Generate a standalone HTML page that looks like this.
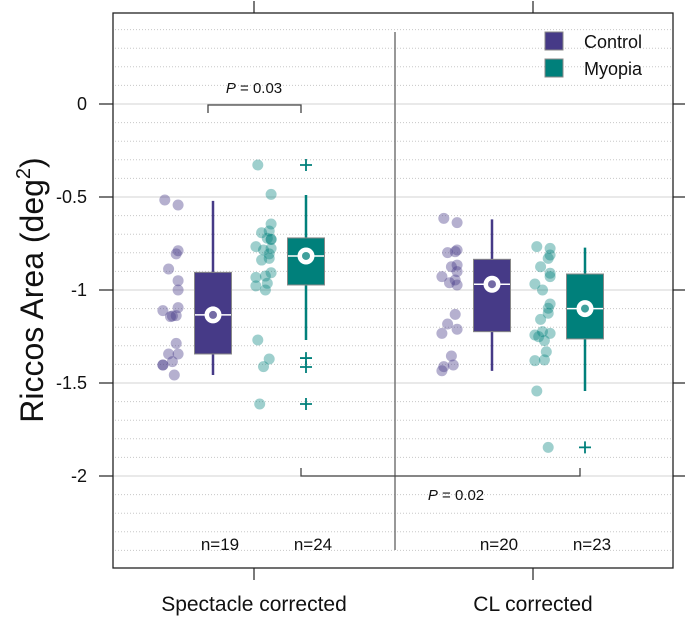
<!DOCTYPE html>
<html><head><meta charset="utf-8"><style>
html,body{margin:0;padding:0;background:#fff;}
svg{display:block;font-family:"Liberation Sans",Arial,sans-serif;}
</style></head><body>
<svg id="chart" width="685" height="618" viewBox="0 0 685 618"></svg>
<script>
const categories = ["Spectacle corrected", "CL corrected"];
const groups = ["Control", "Myopia"];
const yTicks = [0, -0.5, -1, -1.5, -2];
const yTickLabels = ["0", "-0.5", "-1", "-1.5", "-2"];
const nLabels = [["n=19","n=24"],["n=20","n=23"]];
// box stats: [whiskerLow, q1, median, q3, whiskerHigh]
const boxSpecControl = [-1.457, -1.344, -1.134, -0.905, -0.521];
const boxSpecMyopia = [-1.269, -0.973, -0.817, -0.72, -0.489];
const boxCLControl = [-1.435, -1.224, -0.969, -0.835, -0.62];
const boxCLMyopia = [-1.543, -1.263, -1.1, -0.914, -0.772];
const outSpecMyopia = [-0.328, -1.366, -1.414, -1.613];
const outCLMyopia = [-1.846];
const ptsSpecControl = [-0.516,-0.543,-0.789,-0.806,-0.887,-0.95,-1.0,-1.111,-1.143,-1.095,-1.138,-1.287,-1.344,-1.344,-1.403,-1.385,-1.457,-1.403,-1.14];
const ptsSpecMyopia = [-0.328,-0.486,-0.645,-0.683,-0.692,-0.728,-0.728,-0.767,-0.785,-0.776,-0.806,-0.83,-0.839,-0.907,-0.932,-0.925,-0.964,-0.978,-1.0,-1.269,-1.371,-1.412,-1.613,-0.722];
const ptsCLControl = [-0.615,-0.638,-0.785,-0.794,-0.799,-0.866,-0.901,-0.928,-0.961,-0.973,-0.946,-1.131,-1.183,-1.211,-1.233,-1.355,-1.403,-1.434,-0.875,-1.412];
const ptsCLMyopia = [-0.767,-0.776,-0.812,-0.83,-0.875,-0.91,-0.928,-0.968,-1.0,-1.075,-1.098,-1.125,-1.158,-1.233,-1.242,-1.272,-1.332,-1.38,-1.376,-1.543,-1.846,-1.224,-1.251];
const means = [[-1.134, -0.817],[-0.969, -1.1]];

const NS="http://www.w3.org/2000/svg";
const svg=document.getElementById('chart');
const L=113,R=673,T=13,B=568;
const y=v=>104-v*186;
const catX=i=>254+i*279;
const grpX=(i,g)=>catX(i)+(g===0?-41:52);
const colors=["#463a87","#00807b"];
function el(tag,attrs,parent){const e=document.createElementNS(NS,tag);for(const k in attrs)e.setAttribute(k,attrs[k]);(parent||svg).appendChild(e);return e;}

for(let k=4;k>=-25;k--){const v=k/10;if(Math.abs(v*2-Math.round(v*2))<1e-6)continue;
 const g=el('line',{x1:L+2,x2:R-2,y1:y(v),y2:y(v),stroke:'#c8c8c8','stroke-width':1,'stroke-dasharray':'1,2'});
 
 }
yTicks.forEach((v,i)=>{
 const g=el('line',{x1:L,x2:R,y1:y(v),y2:y(v),stroke:'#dcdcdc','stroke-width':1.2});
 
 
 const t=el('line',{x1:L-14,x2:L,y1:y(v),y2:y(v),stroke:'#222','stroke-width':1.2});
 
 
 const t2=el('line',{x1:R,x2:R+12,y1:y(v),y2:y(v),stroke:'#222','stroke-width':1.2});
 
 
 const lb=el('text',{x:87,y:y(v)+6,'text-anchor':'end','font-size':18,fill:'#111'});
 lb.textContent=yTickLabels[i];
 
 
});
const dv=el('line',{x1:395,x2:395,y1:32,y2:550,stroke:'#777','stroke-width':1.5});


const fr=el('rect',{x:L,y:T,width:R-L,height:B-T,fill:'none',stroke:'#222','stroke-width':1.3});


categories.forEach((c,i)=>{
 const tt=el('line',{x1:catX(i),x2:catX(i),y1:T-12,y2:T,stroke:'#222','stroke-width':1.2});
 
 
 const tb=el('line',{x1:catX(i),x2:catX(i),y1:B,y2:B+12,stroke:'#222','stroke-width':1.2});
 
 
 const lb=el('text',{x:catX(i),y:611,'text-anchor':'middle','font-size':21,fill:'#111'});
 lb.textContent=c;
 
 
 nLabels[i].forEach((n,g)=>{
  const nt=el('text',{x:grpX(i,g)+7,y:550,'text-anchor':'middle','font-size':17,fill:'#111'});
  nt.textContent=n;
  
  
 });
});
const jitter=[0.2,0.9,0.9,0.8,0.4,0.9,0.9,0.1,0.5,0.9,0.8,0.8,0.4,0.9,0.1,0.6,0.7,0.1,0.6,0.2,0.8,0.5,0.3,0.7];
const allPts=[[ptsSpecControl,ptsSpecMyopia],[ptsCLControl,ptsCLMyopia]];
const allBox=[[boxSpecControl,boxSpecMyopia],[boxCLControl,boxCLMyopia]];
const allOut=[[[],outSpecMyopia],[[],outCLMyopia]];
for(let i=0;i<2;i++)for(let g=0;g<2;g++){
 const cx=grpX(i,g), col=colors[g];
 allPts[i][g].forEach((v,k)=>{
  const p=el('circle',{cx:cx-52+jitter[k%jitter.length]*19,cy:y(v),r:5.5,fill:col,'fill-opacity':g===0?0.4:0.38});
  
  
 });
 const b=allBox[i][g];
 const w=el('line',{x1:cx,x2:cx,y1:y(b[0]),y2:y(b[4]),stroke:col,'stroke-width':2.5});
 
 
 const bx=el('rect',{x:cx-18.5,y:y(b[3]),width:37,height:y(b[1])-y(b[3]),fill:col,stroke:'#888','stroke-width':1});
 
 
 const md=el('line',{x1:cx-18,x2:cx+18,y1:y(b[2]),y2:y(b[2]),stroke:'#fff','stroke-width':1.5});
 
 
 const mo=el('circle',{cx:cx,cy:y(means[i][g]),r:8.5,fill:'#fff'});
 
 
 const mi=el('circle',{cx:cx,cy:y(means[i][g]),r:4,fill:col,'fill-opacity':0.75});
 
 
 allOut[i][g].forEach(v=>{
  const o=el('path',{d:`M${cx-6} ${y(v)}H${cx+6}M${cx} ${y(v)-6}V${y(v)+6}`,stroke:col,'stroke-width':1.8,fill:'none'});
  
  
 });
}
const br1=el('path',{d:'M208 113V105H301V113',stroke:'#444','stroke-width':1.3,fill:'none'});


const p1=el('text',{x:254,y:93,'text-anchor':'middle','font-size':15,fill:'#111'});
p1.innerHTML='<tspan font-style="italic">P</tspan> = 0.03';


const br2=el('path',{d:'M301 468V476H580V468',stroke:'#444','stroke-width':1.3,fill:'none'});


const p2=el('text',{x:456,y:500,'text-anchor':'middle','font-size':15,fill:'#111'});
p2.innerHTML='<tspan font-style="italic">P</tspan> = 0.02';


groups.forEach((gname,g)=>{
 const s=el('rect',{x:545,y:32+g*27,width:18,height:18,fill:colors[g],stroke:'#888','stroke-width':1});
 
 
 const t=el('text',{x:584,y:48+g*27,'font-size':18,fill:'#111'});
 t.textContent=gname;
 
 
});
const yt=el('text',{x:0,y:0,transform:'translate(43,290) rotate(-90)','text-anchor':'middle','font-size':32,fill:'#111'});
yt.innerHTML='Riccos Area (deg<tspan dy="-13" font-size="20">2</tspan><tspan dy="13">)</tspan>';


</script>
</body></html>
